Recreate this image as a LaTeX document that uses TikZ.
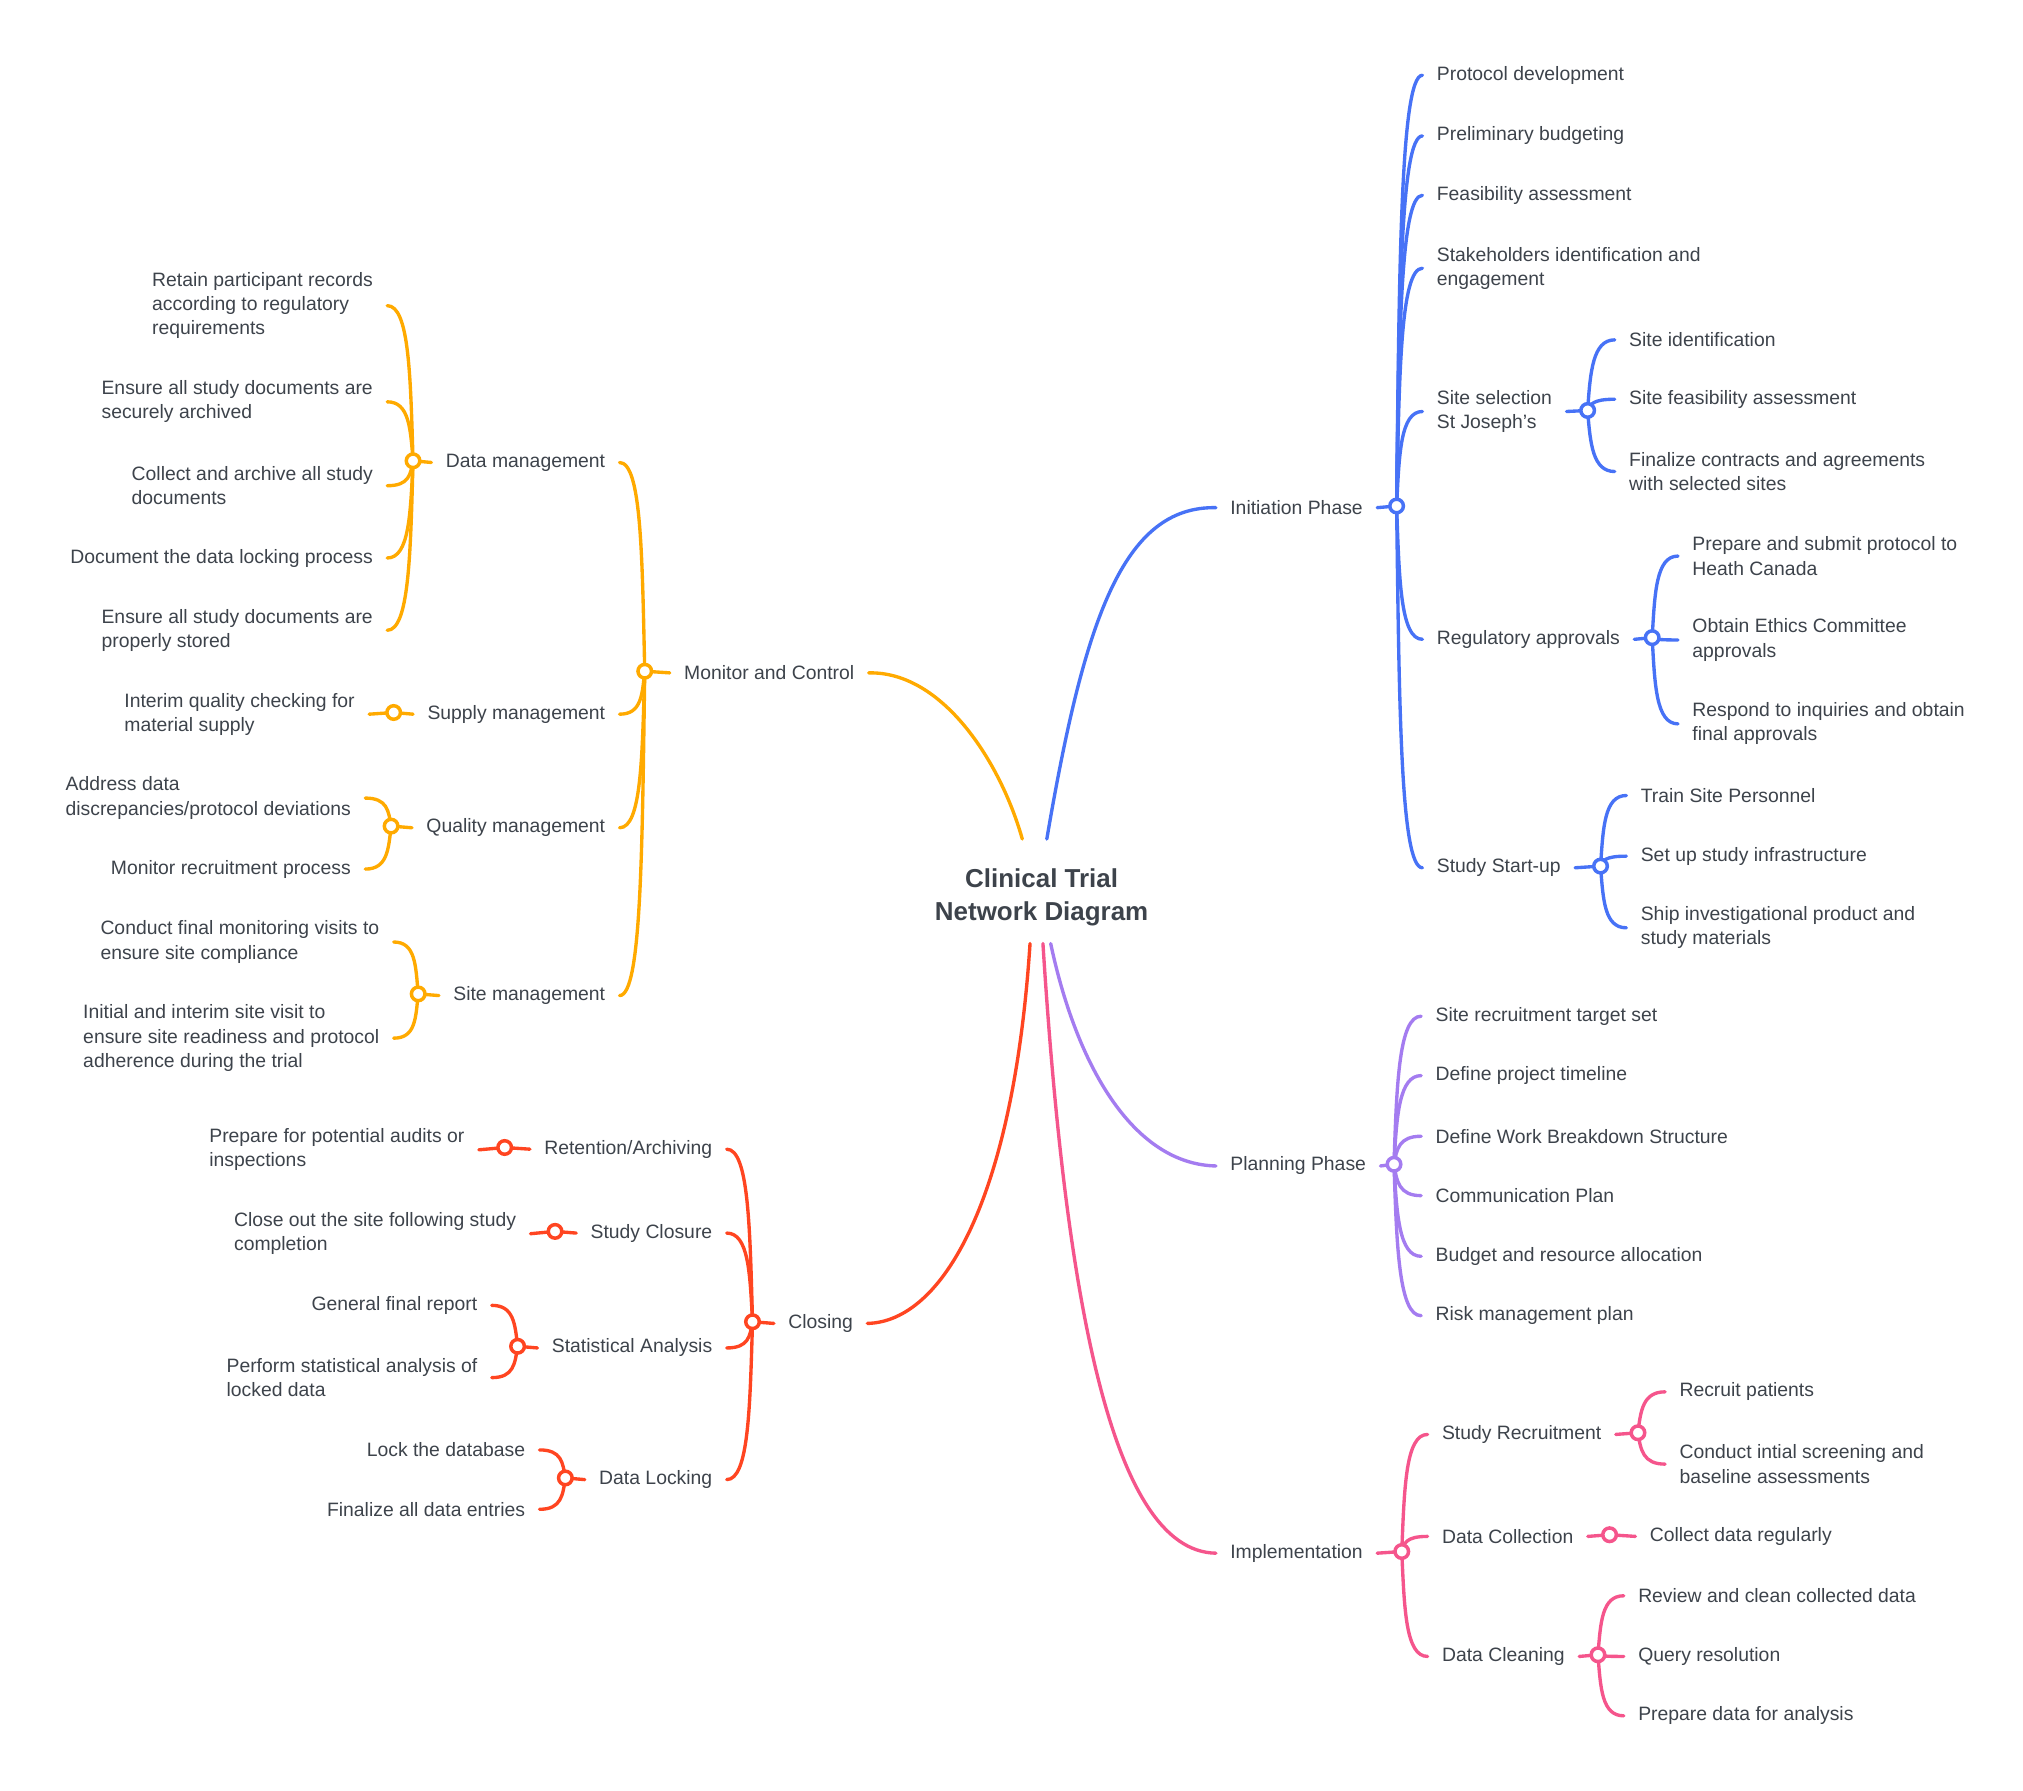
\documentclass[tikz,border=0pt]{standalone}
\usepackage{fontspec}
\setmainfont{Liberation Sans}
\usetikzlibrary{calc}
\definecolor{cblue}{HTML}{4772F6}
\definecolor{corange}{HTML}{FFAA00}
\definecolor{cpurple}{HTML}{A47CF0}
\definecolor{cpink}{HTML}{F5558C}
\definecolor{cred}{HTML}{FF4521}
\definecolor{txt}{HTML}{3D434B}
\newcommand\bodyfont{\fontsize{15}{18.75}\selectfont}
\newcommand\titlefont{\fontsize{20.1}{25.8}\selectfont\bfseries}
\begin{document}
\begin{tikzpicture}[x=1pt,y=-1pt,
  every node/.style={inner xsep=11pt, inner ysep=0pt, text=txt},
  tx/.style={font=\bodyfont, align=left, yshift=-1.3pt},
  R/.style={tx, anchor=west, xshift=-11pt},
  L/.style={tx, anchor=east, xshift=11pt},
  hubc/.style={circle, draw=#1, fill=white, line width=2.7pt, minimum size=10.5pt, inner sep=0pt},
  ln/.style={draw=#1, line width=2.6pt, line cap=round},
  brR/.style={to path={.. controls ($(\tikztostart)!0.55!(\tikztostart|-\tikztotarget)+(2,0)$) and ($(\tikztotarget)+(-17,0)$) .. (\tikztotarget)}},
  brL/.style={to path={.. controls ($(\tikztostart)!0.55!(\tikztostart|-\tikztotarget)+(-2,0)$) and ($(\tikztotarget)+(17,0)$) .. (\tikztotarget)}}
]
\fill[white] (0,0) rectangle (1567.3,1386.8);
\useasboundingbox (0,0) rectangle (1567.3,1386.8);

% ---------- centre ----------
\node[font=\titlefont, align=center, inner sep=0pt] (title) at (807,695) {Clinical Trial\\Network Diagram};
\coordinate (co) at (792,650);
\coordinate (cb) at (811,650);
\coordinate (cr) at (798,731);
\coordinate (cp) at (808,731);
\coordinate (cu) at (814,731);

% ---------- Initiation ----------
\node[R] (ip) at (953,392) {Initiation Phase};
\coordinate (hip) at (1082,392);
\node[R] (ip1) at (1113,57) {Protocol development};
\node[R] (ip2) at (1113,104) {Preliminary budgeting};
\node[R] (ip3) at (1113,150) {Feasibility assessment};
\node[R] (ip4) at (1113,206.5) {Stakeholders identification and\\engagement};
\node[R] (ip5) at (1113,317.5) {Site selection\\St Joseph's};
\node[R] (ip6) at (1113,494) {Regulatory approvals};
\node[R] (ip7) at (1113,671) {Study Start-up};
\coordinate (hss) at (1230,318);
\node[R] (ss1) at (1262,262) {Site identification};
\node[R] (ss2) at (1262,308) {Site feasibility assessment};
\node[R] (ss3) at (1262,364) {Finalize contracts and agreements\\with selected sites};
\coordinate (hra) at (1280,494);
\node[R] (ra1) at (1311,429.5) {Prepare and submit protocol to\\Heath Canada};
\node[R] (ra2) at (1311,494.5) {Obtain Ethics Committee\\approvals};
\node[R] (ra3) at (1311,559.5) {Respond to inquiries and obtain\\final approvals};
\coordinate (hsu) at (1240,671);
\node[R] (su1) at (1271,615) {Train Site Personnel};
\node[R] (su2) at (1271,662) {Set up study infrastructure};
\node[R] (su3) at (1271,717.5) {Ship investigational product and\\study materials};

% ---------- Planning ----------
\node[R] (pp) at (953,902) {Planning Phase};
\coordinate (hpp) at (1080,902);
\node[R] (pp1) at (1112,786) {Site recruitment target set};
\node[R] (pp2) at (1112,832) {Define project timeline};
\node[R] (pp3) at (1112,879) {Define Work Breakdown Structure};
\node[R] (pp4) at (1112,925) {Communication Plan};
\node[R] (pp5) at (1112,972) {Budget and resource allocation};
\node[R] (pp6) at (1112,1018) {Risk management plan};

% ---------- Implementation ----------
\node[R] (im) at (953,1202) {Implementation};
\coordinate (him) at (1086,1202);
\node[R] (im1) at (1117,1110) {Study Recruitment};
\node[R] (im2) at (1117,1189) {Data Collection};
\node[R] (im3) at (1117,1282) {Data Cleaning};
\coordinate (hsr) at (1269,1110);
\node[R] (sr1) at (1301,1077) {Recruit patients};
\node[R] (sr2) at (1301,1133) {Conduct intial screening and\\baseline assessments};
\coordinate (hdc) at (1247,1189);
\node[R] (dc1) at (1278,1189) {Collect data regularly};
\coordinate (hcl) at (1238,1282);
\node[R] (cl1) at (1269,1235) {Review and clean collected data};
\node[R] (cl2) at (1269,1282) {Query resolution};
\node[R] (cl3) at (1269,1328) {Prepare data for analysis};

% ---------- Monitor and Control ----------
\node[L] (mc) at (662,520) {Monitor and Control};
\coordinate (hmc) at (499.5,520);
\node[L] (mc1) at (469,357) {Data management};
\node[L] (mc2) at (469,552) {Supply management};
\node[L] (mc3) at (469,640) {Quality management};
\node[L] (mc4) at (469,770) {Site management};
\coordinate (hdm) at (320,357);
\node[L] (dm1) at (289,235.5) {Retain participant records\\according to regulatory\\requirements};
\node[L] (dm2) at (289,310) {Ensure all study documents are\\securely archived};
\node[L] (dm3) at (289,375) {Collect and archive all study\\documents};
\node[L] (dm4) at (289,431) {Document the data locking process};
\node[L] (dm5) at (289,487) {Ensure all study documents are\\properly stored};
\coordinate (hsm) at (305,552);
\node[L] (sm1) at (275,552) {Interim quality checking for\\material supply};
\coordinate (hqm) at (303,640);
\node[L] (qm1) at (272,617) {Address data\\discrepancies/protocol deviations};
\node[L] (qm2) at (272,672) {Monitor recruitment process};
\coordinate (hsi) at (324,770);
\node[L] (si1) at (294,728.5) {Conduct final monitoring visits to\\ensure site compliance};
\node[L] (si2) at (294,803) {Initial and interim site visit to\\ensure site readiness and protocol\\adherence during the trial};

% ---------- Closing ----------
\node[L] (cs) at (661,1024) {Closing};
\coordinate (hcs) at (583,1024);
\node[L] (cs1) at (552,889) {Retention/Archiving};
\node[L] (cs2) at (552,954) {Study Closure};
\node[L] (cs3) at (552,1043) {Statistical Analysis};
\node[L] (cs4) at (552,1145) {Data Locking};
\coordinate (hrt) at (391,889);
\node[L] (rt1) at (360,889.5) {Prepare for potential audits or\\inspections};
\coordinate (hsc) at (430,954);
\node[L] (sc1) at (400,954.5) {Close out the site following study\\completion};
\coordinate (hsa) at (401,1043);
\node[L] (sa1) at (370,1010) {General final report};
\node[L] (sa2) at (370,1066) {Perform statistical analysis of\\locked data};
\coordinate (hdl) at (438,1145);
\node[L] (dl1) at (407,1122) {Lock the database};
\node[L] (dl2) at (407,1168) {Finalize all data entries};

% ---------- connectors ----------
\draw[ln=cblue] (cb) .. controls (840,480) and (870,392) .. (ip.west);
\draw[ln=corange] (co) .. controls (775,590) and (730,520) .. (mc.east);
\draw[ln=cpurple] (cu) .. controls (835,830) and (880,902) .. (pp.west);
\draw[ln=cpink] (cp) .. controls (825,1000) and (860,1202) .. (im.west);
\draw[ln=cred] (cr) .. controls (785,930) and (730,1024) .. (cs.east);

% right side stubs
\draw[ln=cblue] (ip.east) -- (hip);
\draw[ln=cblue] (ip5.east) -- (hss);
\draw[ln=cblue] (ip6.east) -- (hra);
\draw[ln=cblue] (ip7.east) -- (hsu);
\draw[ln=cpurple] (pp.east) -- (hpp);
\draw[ln=cpink] (im.east) -- (him);
\draw[ln=cpink] (im1.east) -- (hsr);
\draw[ln=cpink] (im2.east) -- (hdc);
\draw[ln=cpink] (im3.east) -- (hcl);
% left side stubs
\draw[ln=corange] (mc.west) -- (hmc);
\draw[ln=corange] (mc1.west) -- (hdm);
\draw[ln=corange] (mc2.west) -- (hsm);
\draw[ln=corange] (mc3.west) -- (hqm);
\draw[ln=corange] (mc4.west) -- (hsi);
\draw[ln=cred] (cs.west) -- (hcs);
\draw[ln=cred] (cs1.west) -- (hrt);
\draw[ln=cred] (cs2.west) -- (hsc);
\draw[ln=cred] (cs3.west) -- (hsa);
\draw[ln=cred] (cs4.west) -- (hdl);

% branches right
\foreach \n in {ip1,ip2,ip3,ip4,ip5,ip6,ip7} \draw[ln=cblue] (hip) to[brR] (\n.west);
\foreach \n in {ss1,ss2,ss3} \draw[ln=cblue] (hss) to[brR] (\n.west);
\foreach \n in {ra1,ra2,ra3} \draw[ln=cblue] (hra) to[brR] (\n.west);
\foreach \n in {su1,su2,su3} \draw[ln=cblue] (hsu) to[brR] (\n.west);
\foreach \n in {pp1,pp2,pp3,pp4,pp5,pp6} \draw[ln=cpurple] (hpp) to[brR] (\n.west);
\foreach \n in {im1,im2,im3} \draw[ln=cpink] (him) to[brR] (\n.west);
\foreach \n in {sr1,sr2} \draw[ln=cpink] (hsr) to[brR] (\n.west);
\draw[ln=cpink] (hdc) -- (dc1.west);
\foreach \n in {cl1,cl2,cl3} \draw[ln=cpink] (hcl) to[brR] (\n.west);
% branches left
\foreach \n in {mc1,mc2,mc3,mc4} \draw[ln=corange] (hmc) to[brL] (\n.east);
\foreach \n in {dm1,dm2,dm3,dm4,dm5} \draw[ln=corange] (hdm) to[brL] (\n.east);
\draw[ln=corange] (hsm) -- (sm1.east);
\foreach \n in {qm1,qm2} \draw[ln=corange] (hqm) to[brL] (\n.east);
\foreach \n in {si1,si2} \draw[ln=corange] (hsi) to[brL] (\n.east);
\foreach \n in {cs1,cs2,cs3,cs4} \draw[ln=cred] (hcs) to[brL] (\n.east);
\draw[ln=cred] (hrt) -- (rt1.east);
\draw[ln=cred] (hsc) -- (sc1.east);
\foreach \n in {sa1,sa2} \draw[ln=cred] (hsa) to[brL] (\n.east);
\foreach \n in {dl1,dl2} \draw[ln=cred] (hdl) to[brL] (\n.east);

% ---------- hub circles ----------
\node[hubc=cblue] (chip) at (hip) {};
\node[hubc=cblue] (chss) at (hss) {};
\node[hubc=cblue] (chra) at (hra) {};
\node[hubc=cblue] (chsu) at (hsu) {};
\node[hubc=cpurple] (chpp) at (hpp) {};
\node[hubc=cpink] (chim) at (him) {};
\node[hubc=cpink] (chsr) at (hsr) {};
\node[hubc=cpink] (chdc) at (hdc) {};
\node[hubc=cpink] (chcl) at (hcl) {};
\node[hubc=corange] (chmc) at (hmc) {};
\node[hubc=corange] (chdm) at (hdm) {};
\node[hubc=corange] (chsm) at (hsm) {};
\node[hubc=corange] (chqm) at (hqm) {};
\node[hubc=corange] (chsi) at (hsi) {};
\node[hubc=cred] (chcs) at (hcs) {};
\node[hubc=cred] (chrt) at (hrt) {};
\node[hubc=cred] (chsc) at (hsc) {};
\node[hubc=cred] (chsa) at (hsa) {};
\node[hubc=cred] (chdl) at (hdl) {};
\end{tikzpicture}
\end{document}
